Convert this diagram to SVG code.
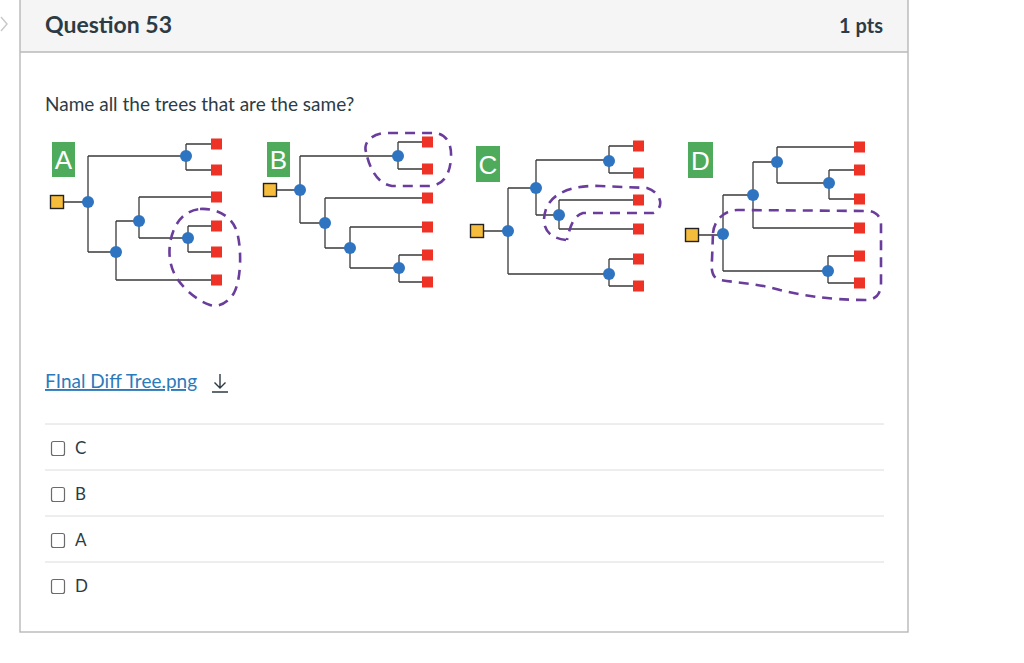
<svg xmlns="http://www.w3.org/2000/svg" width="1024" height="663" viewBox="0 0 1024 663">
<style>
.edge{fill:none;stroke:#3a3a3a;stroke-width:1.3}
.leaf{fill:#ee3326}
.node{fill:#2f74c0}
.root{fill:#f6bd3c;stroke:#222;stroke-width:1.4}
.lab{fill:#4dab5b}
.labt{font-family:"Liberation Sans",Arial,sans-serif;font-size:26px;fill:#fff;text-anchor:middle}
.ring{fill:none;stroke:#6a3d9c;stroke-width:2.6;stroke-dasharray:10 7}
.t{font-family:Lato,"Open Sans",sans-serif;fill:#2d3b45}
.sep{stroke:#dcdcdc;stroke-width:1}
.cb{fill:#fff;stroke:#6b6b6b;stroke-width:1.2}
</style>
<rect width="1024" height="663" fill="#fff"/>
<!-- card -->
<g id="card">
<rect x="20" y="-2" width="888" height="54" fill="#f5f5f5"/>
<rect x="20" y="-2" width="888" height="634" fill="none" stroke="#b8b8b8" stroke-width="1.4"/>
<line x1="20" y1="52" x2="908" y2="52" stroke="#b8b8b8" stroke-width="1.4"/>
<path d="M1,17 L7,24 L1,31" fill="none" stroke="#c8c8c8" stroke-width="1.4"/>
<text class="t" x="45" y="33" font-size="23" font-weight="bold">Question 53</text>
<text class="t" x="883" y="33" font-size="20" font-weight="bold" text-anchor="end" fill="#555">1 pts</text>
<text class="t" x="45" y="111" font-size="19">Name all the trees that are the same?</text>
<text x="45" y="388" font-family="Lato,'Open Sans',sans-serif" font-size="19" fill="#2b7abc" text-decoration="underline">FInal Diff Tree.png</text>
<g id="download" fill="none" stroke="#2d3b45" stroke-width="1.4">
<path d="M220,374 V388 M214.5,382.5 L220,388 L225.5,382.5 M212,392 H228"/>
</g>
</g>
<!-- options -->
<g id="options">
<line class="sep" x1="45" y1="424" x2="884" y2="424"/>
<line class="sep" x1="45" y1="470" x2="884" y2="470"/>
<line class="sep" x1="45" y1="516" x2="884" y2="516"/>
<line class="sep" x1="45" y1="562" x2="884" y2="562"/>
<rect class="cb" x="51.5" y="441.5" width="13" height="14" rx="2"/>
<rect class="cb" x="51.5" y="487.5" width="13" height="14" rx="2"/>
<rect class="cb" x="51.5" y="533.5" width="13" height="14" rx="2"/>
<rect class="cb" x="51.5" y="579.5" width="13" height="14" rx="2"/>
<text class="t" x="75" y="454" font-size="17">C</text>
<text class="t" x="75" y="500" font-size="17">B</text>
<text class="t" x="75" y="546" font-size="17">A</text>
<text class="t" x="75" y="592" font-size="17">D</text>
</g>
<!-- Tree A -->
<g id="tree-A">
<rect class="lab" x="52" y="142" width="23" height="35"/>
<text class="labt" x="63.5" y="169">A</text>
<g id="edges-A">
<path class="edge" d="M63,202 H88 M88,156 V252 M88,156 H186 M186,144 V170 M186,144 H211 M186,170 H211 M88,252 H116 M116,221 V280 M116,221 H139 M116,280 H211 M139,197 V238 M139,197 H211 M139,238 H188 M188,226 V252 M188,226 H211 M188,252 H211"/>
</g>
<rect class="root" x="50.5" y="195.5" width="13" height="13"/>
<circle class="node" cx="88" cy="202" r="6"/>
<circle class="node" cx="186" cy="156" r="6"/>
<circle class="node" cx="116" cy="252" r="6"/>
<circle class="node" cx="139" cy="221" r="6"/>
<circle class="node" cx="188" cy="238" r="6"/>
<rect class="leaf" x="211" y="138.5" width="11" height="11"/>
<rect class="leaf" x="211" y="164.5" width="11" height="11"/>
<rect class="leaf" x="211" y="191.5" width="11" height="11"/>
<rect class="leaf" x="211" y="220.5" width="11" height="11"/>
<rect class="leaf" x="211" y="246.5" width="11" height="11"/>
<rect class="leaf" x="211" y="274.5" width="11" height="11"/>
<path class="ring" d="M200,209 C215,208 232,215 237,232 C242,250 241,280 234,293 C228,303 218,308 210,305 C195,300 180,285 175,275 C168,262 168,245 173,232 C178,218 188,210 200,209 Z"/>
</g>
<!-- Tree B -->
<g id="tree-B">
<rect class="lab" x="267" y="142" width="23" height="35"/>
<text class="labt" x="278.5" y="169">B</text>
<g id="edges-B">
<path class="edge" d="M276,190 H300 M300,156 V223 M300,156 H398 M398,142 V169 M398,142 H422 M398,169 H422 M300,223 H325 M325,198 V248 M325,198 H422 M325,248 H350 M350,227 V268 M350,227 H422 M350,268 H399 M399,255 V282 M399,255 H422 M399,282 H422"/>
</g>
<rect class="root" x="263.5" y="183.5" width="13" height="13"/>
<circle class="node" cx="300" cy="190" r="6"/>
<circle class="node" cx="398" cy="156" r="6"/>
<circle class="node" cx="325" cy="223" r="6"/>
<circle class="node" cx="350" cy="248" r="6"/>
<circle class="node" cx="399" cy="268" r="6"/>
<rect class="leaf" x="422" y="136.5" width="11" height="11"/>
<rect class="leaf" x="422" y="163.5" width="11" height="11"/>
<rect class="leaf" x="422" y="192.5" width="11" height="11"/>
<rect class="leaf" x="422" y="221.5" width="11" height="11"/>
<rect class="leaf" x="422" y="249.5" width="11" height="11"/>
<rect class="leaf" x="422" y="276.5" width="11" height="11"/>
<path class="ring" d="M366,152 C363,142 372,134 385,133 L435,133 C447,134 452,145 451,158 C450,175 443,186 428,186 L392,186 C378,184 370,170 366,152 Z"/>
</g>
<!-- Tree C -->
<g id="tree-C">
<rect class="lab" x="476" y="146" width="24" height="36"/>
<text class="labt" x="488" y="173.5">C</text>
<g id="edges-C">
<path class="edge" d="M483,231 H508 M508,188 V274 M508,188 H536 M536,160 V215 M536,160 H609 M609,146 V173 M609,146 H633 M609,173 H633 M536,215 H559 M559,200 V229 M559,200 H633 M559,229 H633 M508,274 H609 M609,259 V286 M609,259 H633 M609,286 H633"/>
</g>
<rect class="root" x="470.5" y="224.5" width="13" height="13"/>
<circle class="node" cx="508" cy="231" r="6"/>
<circle class="node" cx="536" cy="188" r="6"/>
<circle class="node" cx="609" cy="161" r="6"/>
<circle class="node" cx="559" cy="215" r="6"/>
<circle class="node" cx="609" cy="274" r="6"/>
<rect class="leaf" x="633" y="140.5" width="11" height="11"/>
<rect class="leaf" x="633" y="167.5" width="11" height="11"/>
<rect class="leaf" x="633" y="194.5" width="11" height="11"/>
<rect class="leaf" x="633" y="223.5" width="11" height="11"/>
<rect class="leaf" x="633" y="253.5" width="11" height="11"/>
<rect class="leaf" x="633" y="280.5" width="11" height="11"/>
<path class="ring" d="M566,240 C548,238 540,227 546,209 C552,193 572,185 600,186 L647,188 C660,192 666,207 653,213 L583,213 C573,216 570,227 567,240"/>
</g>
<!-- Tree D -->
<g id="tree-D">
<rect class="lab" x="688" y="142" width="25" height="36"/>
<text class="labt" x="700.5" y="169.5">D</text>
<g id="edges-D">
<path class="edge" d="M698,235 H723 M723,195 V271 M723,195 H753 M753,162 V228 M753,162 H777 M777,147 V183 M777,147 H854 M777,183 H829 M829,170 V199 M829,170 H854 M829,199 H854 M753,228 H854 M723,271 H828 M828,256 V283 M828,256 H854 M828,283 H854"/>
</g>
<rect class="root" x="685.5" y="228.5" width="13" height="13"/>
<circle class="node" cx="723" cy="234" r="6"/>
<circle class="node" cx="753" cy="195" r="6"/>
<circle class="node" cx="777" cy="162" r="6"/>
<circle class="node" cx="829" cy="183" r="6"/>
<circle class="node" cx="828" cy="271" r="6"/>
<rect class="leaf" x="854" y="141.5" width="11" height="11"/>
<rect class="leaf" x="854" y="164.5" width="11" height="11"/>
<rect class="leaf" x="854" y="193.5" width="11" height="11"/>
<rect class="leaf" x="854" y="222.5" width="11" height="11"/>
<rect class="leaf" x="854" y="250.5" width="11" height="11"/>
<rect class="leaf" x="854" y="277.5" width="11" height="11"/>
<path class="ring" d="M713,233 C714,222 722,211 737,210 L870,211 C878,213 881,218 881,225 L881,283 C881,295 875,300 865,300 C830,300 800,295 780,290 C760,284 740,283 720,280 C712,278 711,270 712,260 Z"/>
</g>
</svg>
